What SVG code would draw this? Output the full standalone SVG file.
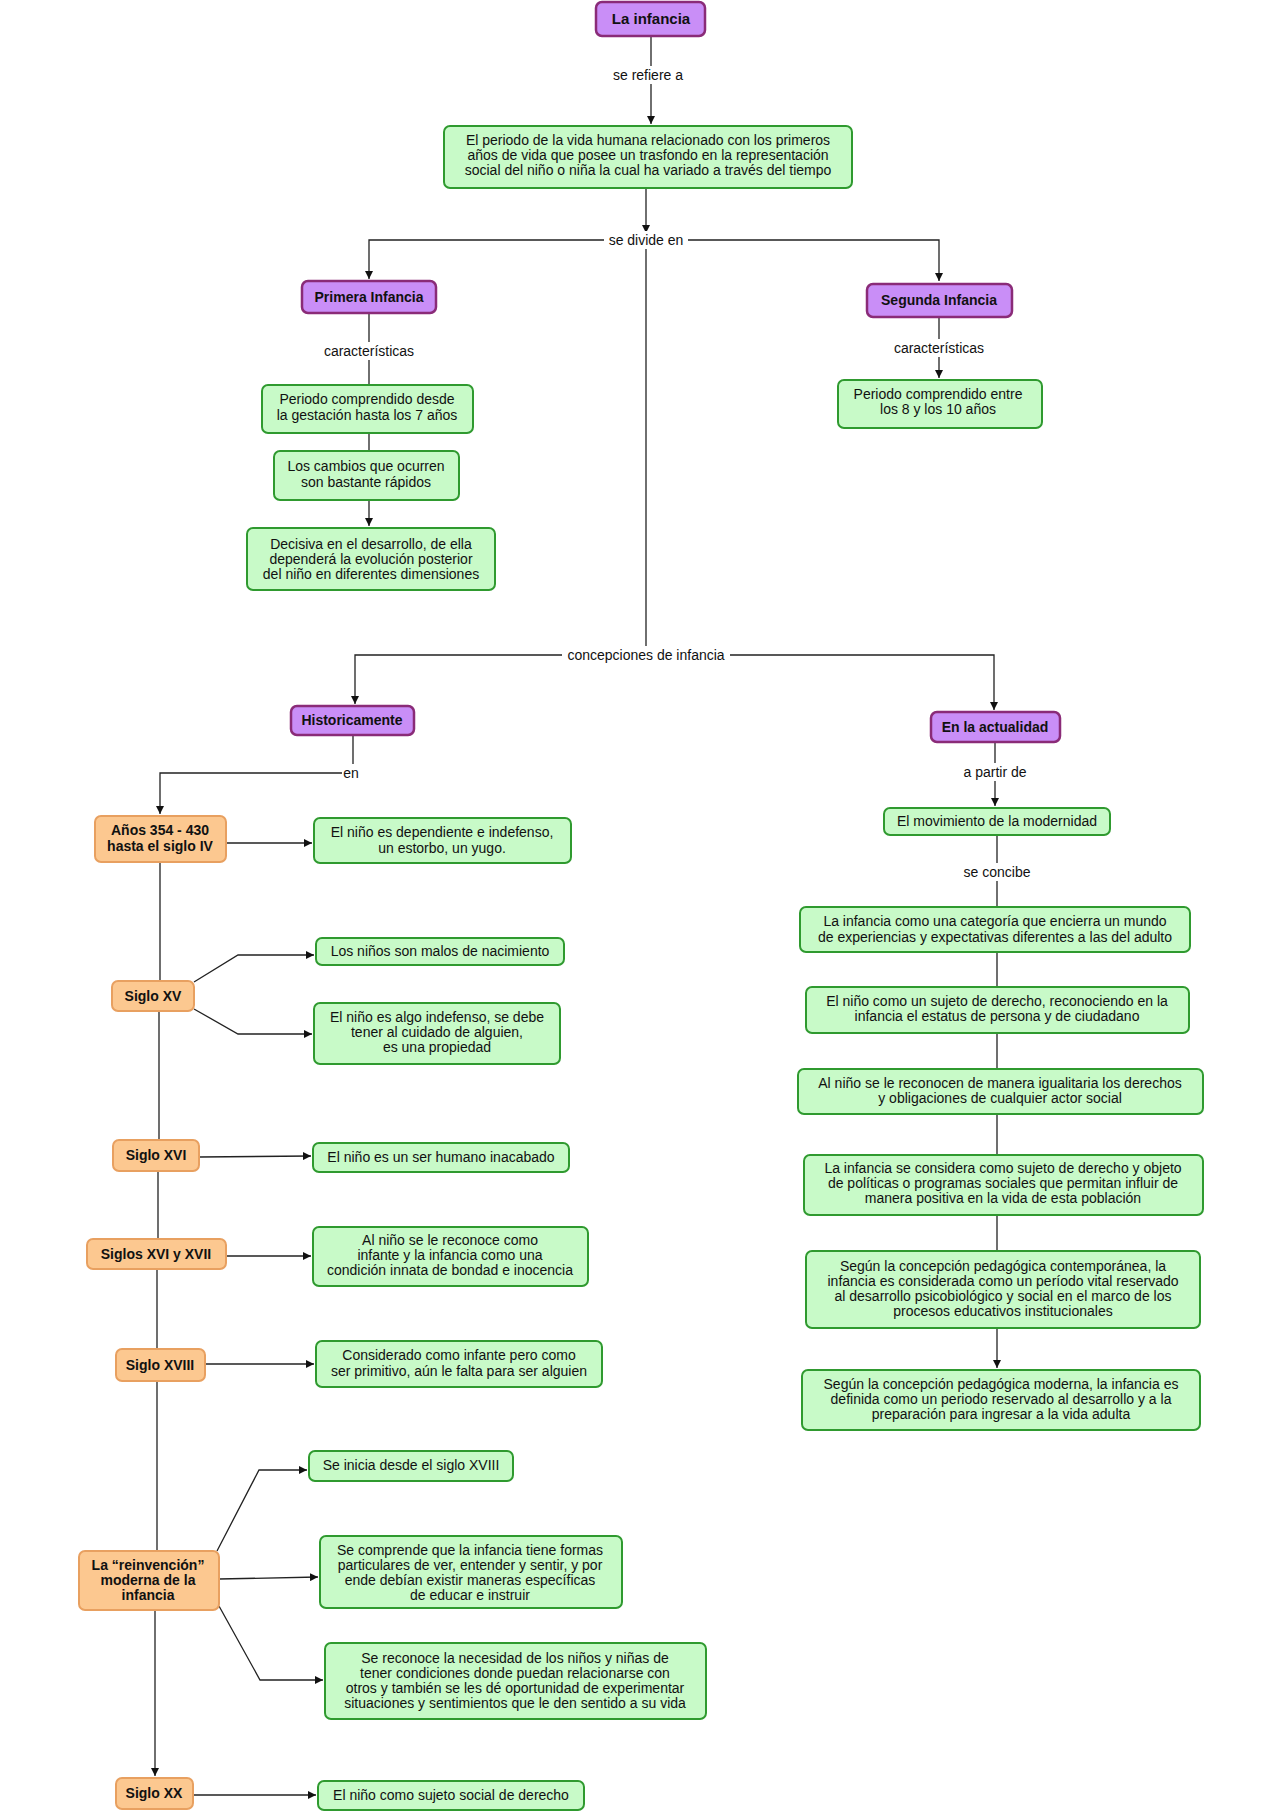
<svg xmlns="http://www.w3.org/2000/svg" width="1280" height="1811" viewBox="0 0 1280 1811">
<style>
text{font-family:"Liberation Sans",Arial,sans-serif;font-size:14px;fill:#111;text-anchor:middle}
.p{fill:#c98ef7;stroke:#8a2b78;stroke-width:2.5}
.g{fill:#c8fac8;stroke:#2f9a2f;stroke-width:2}
.o{fill:#fcc890;stroke:#e8a060;stroke-width:2}
.b{font-weight:bold}
.c{fill:none;stroke:#222;stroke-width:1.3}
.lb{fill:#fff}
</style>
<defs><marker id="a" viewBox="0 0 10 10" refX="10" refY="5" markerWidth="8" markerHeight="8" orient="auto-start-reverse" markerUnits="userSpaceOnUse"><path d="M0,0L10,5L0,10z" fill="#111"/></marker></defs>
<rect width="1280" height="1811" fill="#fff"/>
<g id="connectors">
<path class="c" d="M651,36V124" marker-end="url(#a)"/>
<rect class="lb" x="606" y="66" width="90" height="18"/><text x="648" y="80">se refiere a</text>
<path class="c" d="M646,188V233" marker-end="url(#a)"/>
<path class="c" d="M646,240V655"/>
<path class="c" d="M646,240H369V279" marker-end="url(#a)"/>
<path class="c" d="M646,240H939V281" marker-end="url(#a)"/>
<rect class="lb" x="604" y="231" width="84" height="18"/><text x="646" y="245">se divide en</text>
<path class="c" d="M369,313V385"/>
<rect class="lb" x="318" y="342" width="102" height="18"/><text x="369" y="356">características</text>
<path class="c" d="M369,433V451"/>
<path class="c" d="M369,500V526" marker-end="url(#a)"/>
<path class="c" d="M939,317V378" marker-end="url(#a)"/>
<rect class="lb" x="888" y="339" width="102" height="18"/><text x="939" y="353">características</text>
<path class="c" d="M646,655H355V704" marker-end="url(#a)"/>
<path class="c" d="M646,655H994V710" marker-end="url(#a)"/>
<rect class="lb" x="562" y="646" width="168" height="18"/><text x="646" y="660">concepciones de infancia</text>
<path class="c" d="M353,735V773H160V814" marker-end="url(#a)"/>
<rect class="lb" x="342" y="764" width="20" height="18"/><text x="351" y="778">en</text>
<path class="c" d="M995,742V806" marker-end="url(#a)"/>
<rect class="lb" x="955" y="763" width="80" height="18"/><text x="995" y="777">a partir de</text>
<path class="c" d="M997,835V907"/>
<rect class="lb" x="959" y="863" width="76" height="18"/><text x="997" y="877">se concibe</text>
<path class="c" d="M997,952V987M997,1033V1069M997,1114V1155M997,1215V1251"/>
<path class="c" d="M997,1328V1368" marker-end="url(#a)"/>
<path class="c" d="M160,862V981M159,1011V1140M158,1171V1239M157,1269V1349M157,1381V1551"/>
<path class="c" d="M155,1610V1776" marker-end="url(#a)"/>
<path class="c" d="M226,843H312" marker-end="url(#a)"/>
<path class="c" d="M194,982L238,955H314" marker-end="url(#a)"/>
<path class="c" d="M194,1009L238,1034H312" marker-end="url(#a)"/>
<path class="c" d="M199,1157L311,1156" marker-end="url(#a)"/>
<path class="c" d="M226,1256H311" marker-end="url(#a)"/>
<path class="c" d="M205,1364H314" marker-end="url(#a)"/>
<path class="c" d="M217,1551L259,1470H307" marker-end="url(#a)"/>
<path class="c" d="M219,1579L318,1577" marker-end="url(#a)"/>
<path class="c" d="M219,1606L260,1680H323" marker-end="url(#a)"/>
<path class="c" d="M193,1795H316" marker-end="url(#a)"/>
</g>
<g id="n1"><rect class="p" x="596" y="2" width="109" height="34" rx="6"/><text class="b" x="651" y="24" style="font-size:15px">La infancia</text></g>
<g id="n2"><rect class="g" x="444" y="126" width="408" height="62" rx="6"/><text x="648" y="145">El periodo de la vida humana relacionado con los primeros</text><text x="648" y="160">años de vida que posee un trasfondo en la representación</text><text x="648" y="175">social del niño o niña la cual ha variado a través del tiempo</text></g>
<g id="n3"><rect class="p" x="302" y="281" width="134" height="32" rx="6"/><text class="b" x="369" y="302">Primera Infancia</text></g>
<g id="n4"><rect class="p" x="867" y="284" width="145" height="33" rx="6"/><text class="b" x="939" y="305">Segunda Infancia</text></g>
<g id="n5"><rect class="g" x="262" y="385" width="211" height="48" rx="6"/><text x="367" y="404">Periodo comprendido desde</text><text x="367" y="420">la gestación hasta los 7 años</text></g>
<g id="n6"><rect class="g" x="274" y="451" width="185" height="49" rx="6"/><text x="366" y="471">Los cambios que ocurren</text><text x="366" y="487">son bastante rápidos</text></g>
<g id="n7"><rect class="g" x="247" y="528" width="248" height="62" rx="6"/><text x="371" y="549">Decisiva en el desarrollo, de ella</text><text x="371" y="564">dependerá la evolución posterior</text><text x="371" y="579">del niño en diferentes dimensiones</text></g>
<g id="n8"><rect class="g" x="838" y="380" width="204" height="48" rx="6"/><text x="938" y="399">Periodo comprendido entre</text><text x="938" y="414">los 8 y los 10 años</text></g>
<g id="n9"><rect class="p" x="291" y="706" width="123" height="29" rx="6"/><text class="b" x="352" y="725">Historicamente</text></g>
<g id="n10"><rect class="p" x="931" y="712" width="129" height="30" rx="6"/><text class="b" x="995" y="732">En la actualidad</text></g>
<g id="n11"><rect class="o" x="95" y="816" width="131" height="46" rx="6"/><text class="b" x="160" y="835">Años 354 - 430</text><text class="b" x="160" y="851">hasta el siglo IV</text></g>
<g id="n12"><rect class="g" x="314" y="818" width="257" height="45" rx="6"/><text x="442" y="837">El niño es dependiente e indefenso,</text><text x="442" y="853">un estorbo, un yugo.</text></g>
<g id="n13"><rect class="g" x="884" y="808" width="226" height="27" rx="6"/><text x="997" y="826">El movimiento de la modernidad</text></g>
<g id="n14"><rect class="g" x="800" y="907" width="390" height="45" rx="6"/><text x="995" y="926">La infancia como una categoría que encierra un mundo</text><text x="995" y="942">de experiencias y expectativas diferentes a las del adulto</text></g>
<g id="n15"><rect class="g" x="316" y="938" width="248" height="27" rx="6"/><text x="440" y="956">Los niños son malos de nacimiento</text></g>
<g id="n16"><rect class="o" x="112" y="981" width="82" height="30" rx="6"/><text class="b" x="153" y="1001">Siglo XV</text></g>
<g id="n17"><rect class="g" x="314" y="1003" width="246" height="61" rx="6"/><text x="437" y="1022">El niño es algo indefenso, se debe</text><text x="437" y="1037">tener al cuidado de alguien,</text><text x="437" y="1052">es una propiedad</text></g>
<g id="n18"><rect class="g" x="806" y="987" width="383" height="46" rx="6"/><text x="997" y="1006">El niño como un sujeto de derecho, reconociendo en la</text><text x="997" y="1021">infancia el estatus de persona y de ciudadano</text></g>
<g id="n19"><rect class="g" x="798" y="1069" width="405" height="45" rx="6"/><text x="1000" y="1088">Al niño se le reconocen de manera igualitaria los derechos</text><text x="1000" y="1103">y obligaciones de cualquier actor social</text></g>
<g id="n20"><rect class="o" x="113" y="1140" width="86" height="31" rx="6"/><text class="b" x="156" y="1160">Siglo XVI</text></g>
<g id="n21"><rect class="g" x="313" y="1143" width="256" height="29" rx="6"/><text x="441" y="1162">El niño es un ser humano inacabado</text></g>
<g id="n22"><rect class="g" x="804" y="1155" width="399" height="60" rx="6"/><text x="1003" y="1173">La infancia se considera como sujeto de derecho y objeto</text><text x="1003" y="1188">de políticas o programas sociales que permitan influir de</text><text x="1003" y="1203">manera positiva en la vida de esta población</text></g>
<g id="n23"><rect class="o" x="87" y="1239" width="139" height="30" rx="6"/><text class="b" x="156" y="1259">Siglos XVI y XVII</text></g>
<g id="n24"><rect class="g" x="313" y="1227" width="275" height="59" rx="6"/><text x="450" y="1245">Al niño se le reconoce como</text><text x="450" y="1260">infante y la infancia como una</text><text x="450" y="1275">condición innata de bondad e inocencia</text></g>
<g id="n25"><rect class="g" x="806" y="1251" width="394" height="77" rx="6"/><text x="1003" y="1271">Según la concepción pedagógica contemporánea, la</text><text x="1003" y="1286">infancia es considerada como un período vital reservado</text><text x="1003" y="1301">al desarrollo psicobiológico y social en el marco de los</text><text x="1003" y="1316">procesos educativos institucionales</text></g>
<g id="n26"><rect class="o" x="116" y="1349" width="89" height="32" rx="6"/><text class="b" x="160" y="1370">Siglo XVIII</text></g>
<g id="n27"><rect class="g" x="316" y="1341" width="286" height="46" rx="6"/><text x="459" y="1360">Considerado como infante pero como</text><text x="459" y="1376">ser primitivo, aún le falta para ser alguien</text></g>
<g id="n28"><rect class="g" x="802" y="1370" width="398" height="60" rx="6"/><text x="1001" y="1389">Según la concepción pedagógica moderna, la infancia es</text><text x="1001" y="1404">definida como un periodo reservado al desarrollo y a la</text><text x="1001" y="1419">preparación para ingresar a la vida adulta</text></g>
<g id="n29"><rect class="g" x="309" y="1451" width="204" height="30" rx="6"/><text x="411" y="1470">Se inicia desde el siglo XVIII</text></g>
<g id="n30"><rect class="o" x="79" y="1551" width="140" height="59" rx="6"/><text class="b" x="148" y="1570">La “reinvención”</text><text class="b" x="148" y="1585">moderna de la</text><text class="b" x="148" y="1600">infancia</text></g>
<g id="n31"><rect class="g" x="320" y="1536" width="302" height="72" rx="6"/><text x="470" y="1555">Se comprende que la infancia tiene formas</text><text x="470" y="1570">particulares de ver, entender y sentir, y por</text><text x="470" y="1585">ende debían existir maneras específicas</text><text x="470" y="1600">de educar e instruir</text></g>
<g id="n32"><rect class="g" x="325" y="1643" width="381" height="76" rx="6"/><text x="515" y="1663">Se reconoce la necesidad de los niños y niñas de</text><text x="515" y="1678">tener condiciones donde puedan relacionarse con</text><text x="515" y="1693">otros y también se les dé oportunidad de experimentar</text><text x="515" y="1708">situaciones y sentimientos que le den sentido a su vida</text></g>
<g id="n33"><rect class="o" x="116" y="1778" width="77" height="31" rx="6"/><text class="b" x="154" y="1798">Siglo XX</text></g>
<g id="n34"><rect class="g" x="318" y="1781" width="266" height="29" rx="6"/><text x="451" y="1800">El niño como sujeto social de derecho</text></g>
</svg>
